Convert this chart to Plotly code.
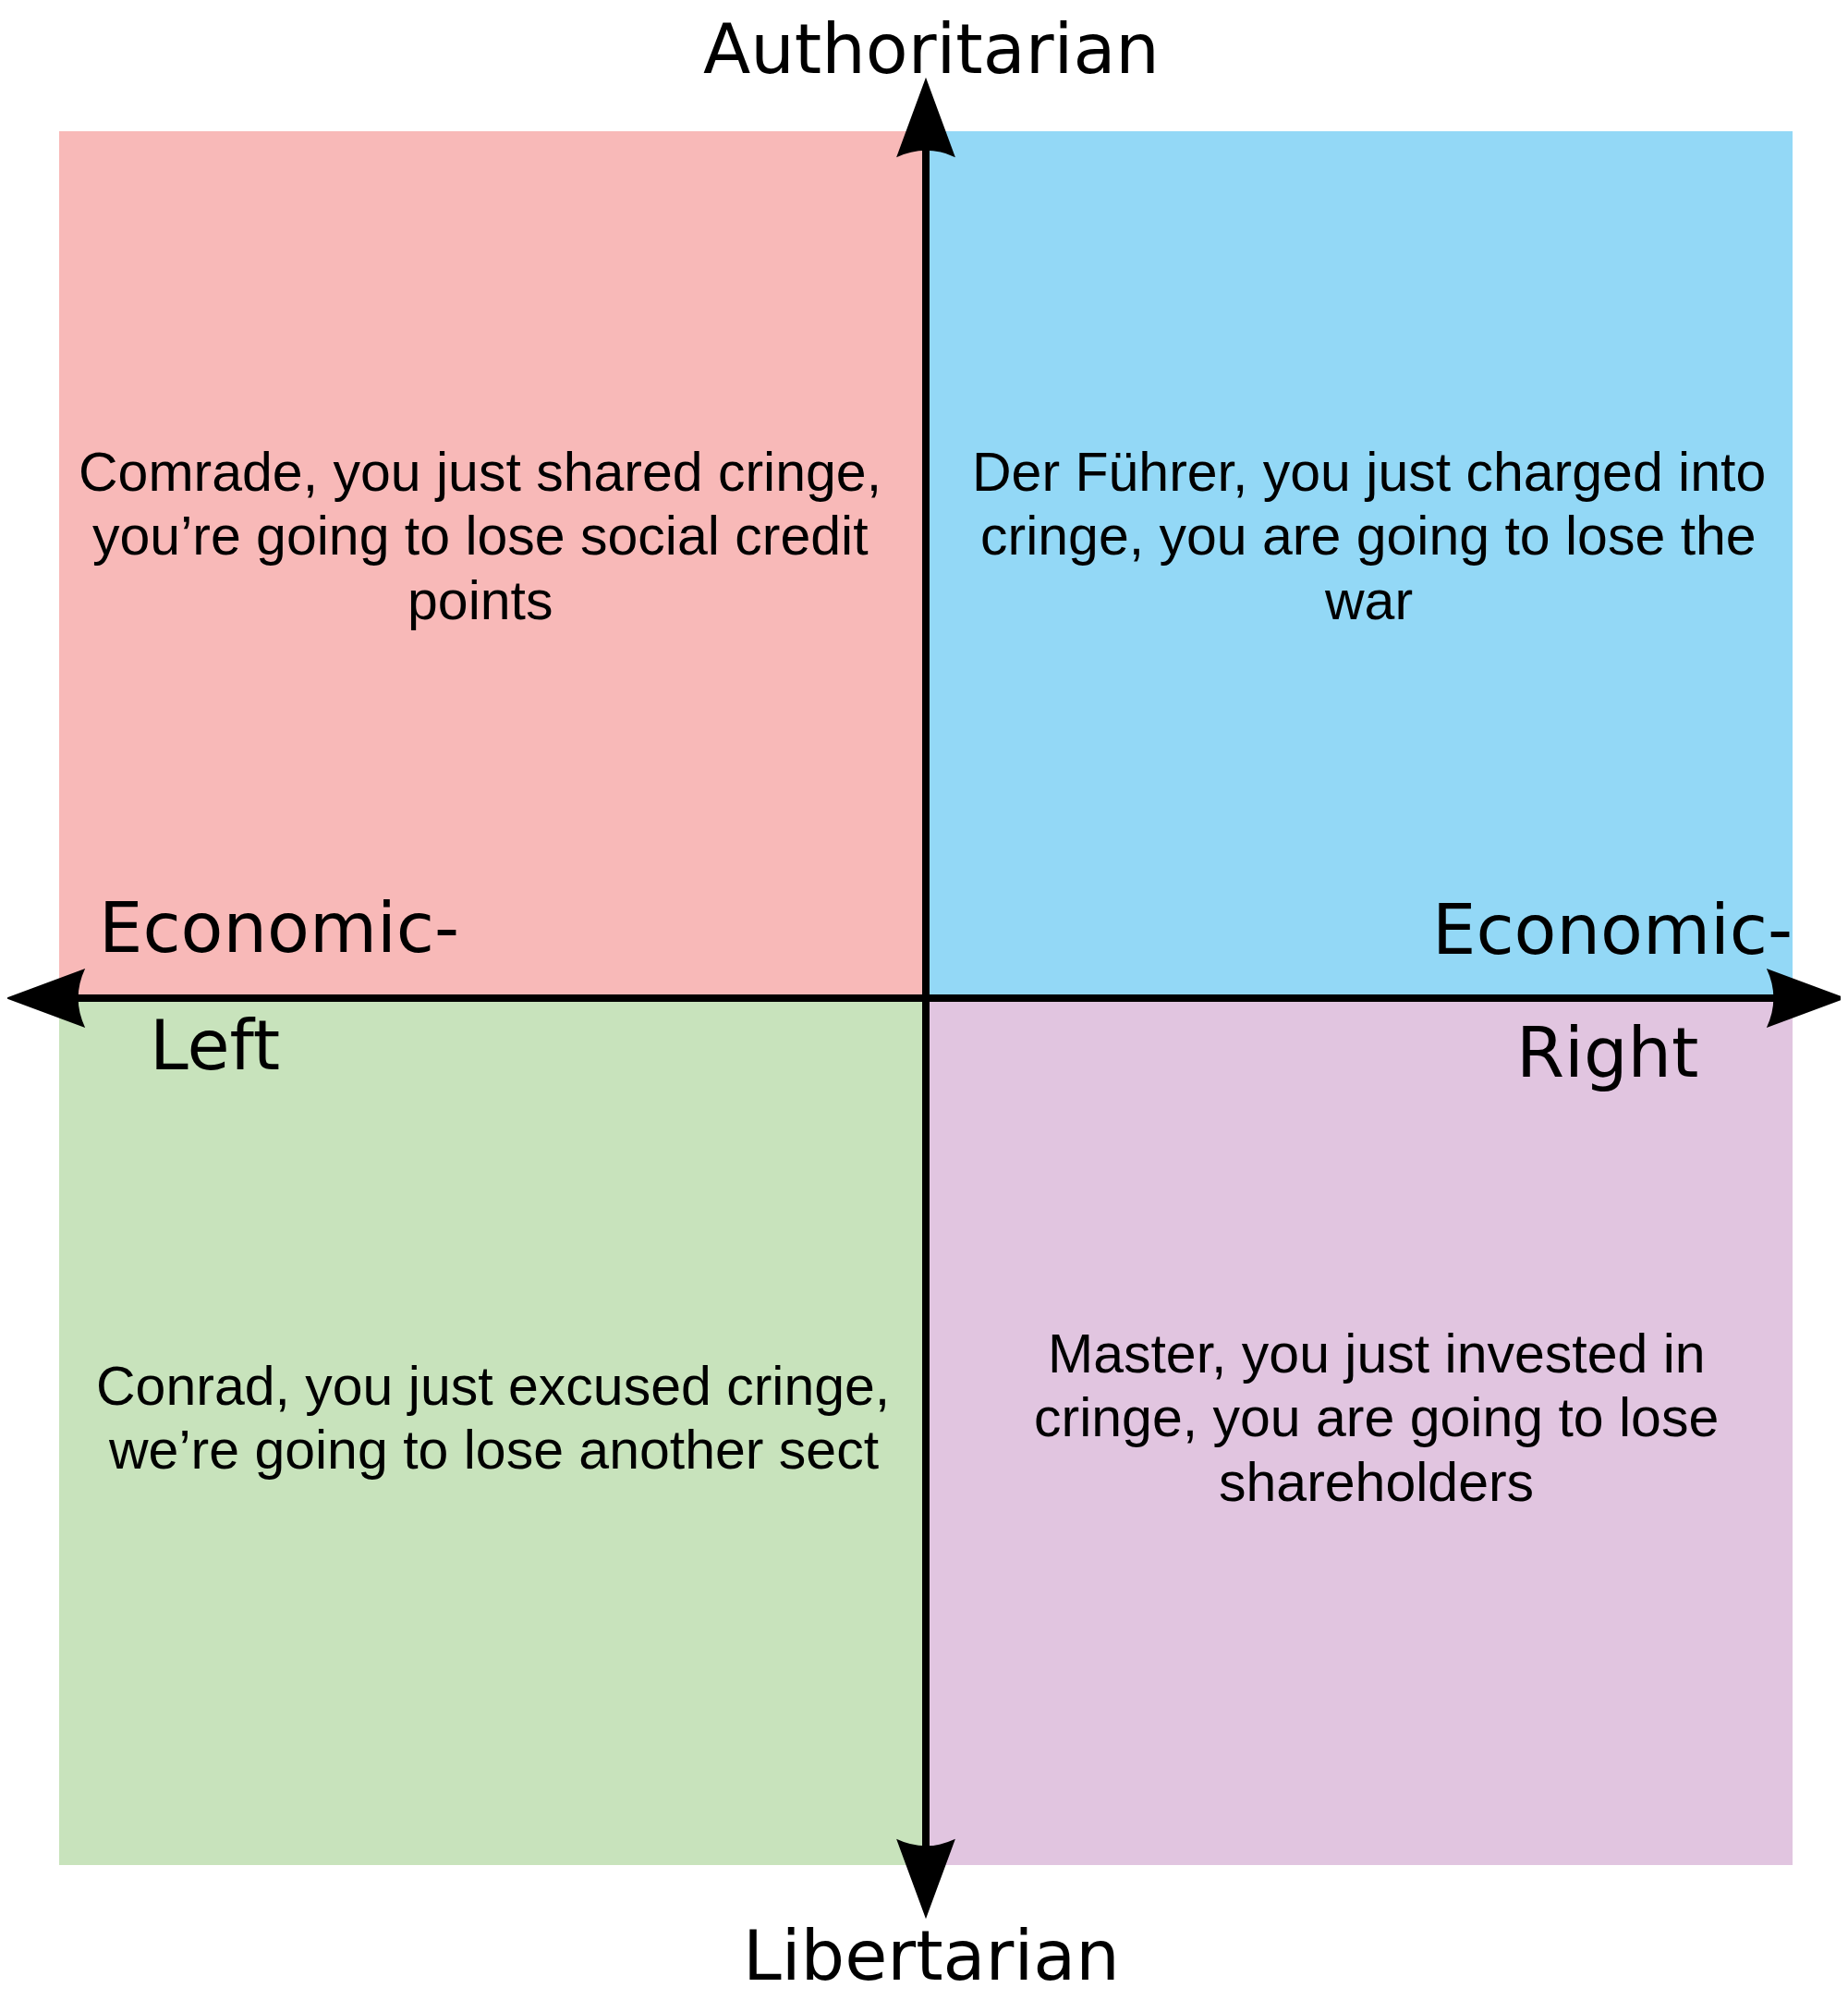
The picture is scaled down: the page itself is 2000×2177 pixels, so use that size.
#!/usr/bin/env python3
# political compass meme: four quadrants with a caption in each
import plotly.graph_objects as go

# --- data -------------------------------------------------------------
QUADRANTS = ["Auth-Left", "Auth-Right", "Lib-Left", "Lib-Right"]
QUAD_X0 = [-10, 0, -10, 0]
QUAD_X1 = [0, 10, 0, 10]
QUAD_Y0 = [0, 0, -10, -10]
QUAD_Y1 = [10, 10, 0, 0]
QUAD_COLORS = ["#F8B9B8", "#93D8F6", "#C8E3BC", "#E1C5E0"]

QUAD_TEXT = [
    ["Comrade, you just shared cringe,",
     "you\u2019re going to lose social credit",
     "points"],
    ["Der F\u00fchrer, you just charged into",
     "cringe, you are going to lose the",
     "war"],
    ["Conrad, you just excused cringe,",
     "we\u2019re going to lose another sect"],
    ["Master, you just invested in",
     "cringe, you are going to lose",
     "shareholders"],
]

AXIS_LABELS = ["Authoritarian", "Libertarian", "Economic-", "Left", "Economic-", "Right"]

# --- geometry ---------------------------------------------------------
W, H = 2000, 2177
LIM = 10
# the page body adds an 8px margin, so the box sits 8px up/left in figure space
BOX_LEFT, BOX_TOP, BOX_PX = 56, 134, 1876
PPU = BOX_PX / (2 * LIM)          # pixels per compass unit

X_RANGE = [-LIM - BOX_LEFT / PPU, -LIM + (W - BOX_LEFT) / PPU]
Y_RANGE = [LIM - (H - BOX_TOP) / PPU, LIM + BOX_TOP / PPU]

REACH = 10.62      # arrow tip
HEAD_LEN = 0.92
HEAD_HALF = 0.34
NOTCH = 0.84

LABEL_FONT = "DejaVu Sans"
BODY_FONT = "Liberation Sans, Arial, sans-serif"

fig = go.Figure()

# quadrants
for name, x0, x1, y0, y1, col in zip(QUADRANTS, QUAD_X0, QUAD_X1, QUAD_Y0, QUAD_Y1, QUAD_COLORS):
    fig.add_trace(go.Scatter(
        x=[x0, x1, x1, x0, x0], y=[y0, y0, y1, y1, y0],
        mode="lines", fill="toself", fillcolor=col,
        line=dict(width=0, color=col), name=name, hoverinfo="skip",
    ))

# axes
shaft = REACH - HEAD_LEN + 0.1
fig.add_trace(go.Scatter(x=[-shaft, shaft], y=[0, 0], mode="lines",
                         line=dict(color="black", width=8), hoverinfo="skip"))
fig.add_trace(go.Scatter(x=[0, 0], y=[-shaft, shaft], mode="lines",
                         line=dict(color="black", width=8), hoverinfo="skip"))


def arrow_head(dx, dy):
    px, py = -dy, dx
    tx, ty = dx * REACH, dy * REACH
    bx, by = tx - dx * HEAD_LEN, ty - dy * HEAD_LEN
    w1 = (bx + px * HEAD_HALF, by + py * HEAD_HALF)
    w2 = (bx - px * HEAD_HALF, by - py * HEAD_HALF)
    c = 2 * NOTCH - HEAD_LEN
    cx, cy = tx - dx * c, ty - dy * c
    return (f"M {tx},{ty} L {w1[0]},{w1[1]} Q {cx},{cy} {w2[0]},{w2[1]} Z")


for d in [(1, 0), (-1, 0), (0, 1), (0, -1)]:
    fig.add_shape(type="path", path=arrow_head(*d), xref="x", yref="y",
                  fillcolor="black", line=dict(width=0))

# axis labels
label_pos = [
    (0.06, 10.95, "center"),
    (0.06, -11.05, "center"),
    (-9.55, 0.81, "left"),
    (-8.97, -0.54, "left"),
    (10.01, 0.79, "right"),
    (7.87, -0.63, "center"),
]
for txt, (x, y, anchor) in zip(AXIS_LABELS, label_pos):
    fig.add_annotation(x=x, y=y, text=txt, showarrow=False, xanchor=anchor,
                       yanchor="middle", borderpad=0,
                       font=dict(family=LABEL_FONT, size=75, color="black"))

# quadrant captions, one annotation per line
caption_pos = [(-5.14, 6.066), (5.11, 6.066), (-4.99, -4.478), (5.20, -4.104)]
LINE_STEP = 0.74
for lines, (cx, cy) in zip(QUAD_TEXT, caption_pos):
    for i, ln in enumerate(lines):
        fig.add_annotation(x=cx, y=cy - i * LINE_STEP, text=ln, showarrow=False,
                           xanchor="center", yanchor="middle", borderpad=0,
                           font=dict(family=BODY_FONT, size=59, color="black"))

fig.update_layout(
    width=W, height=H,
    margin=dict(l=0, r=0, t=0, b=0, pad=0),
    paper_bgcolor="white", plot_bgcolor="white",
    showlegend=False,
    xaxis=dict(range=X_RANGE, visible=False, fixedrange=True),
    yaxis=dict(range=Y_RANGE, visible=False, fixedrange=True),
)

fig.write_html("out.html")
